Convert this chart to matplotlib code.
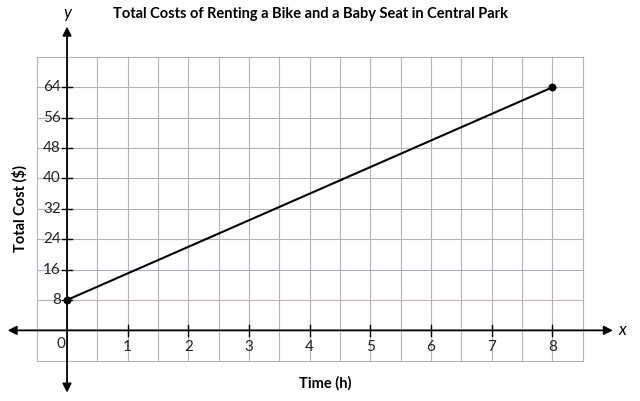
import matplotlib
matplotlib.use("Agg")
import matplotlib.pyplot as plt

# Data
hours = [0, 8]
cost = [8, 64]
x_ticks = [1, 2, 3, 4, 5, 6, 7, 8]
y_ticks = [8, 16, 24, 32, 40, 48, 56, 64]
x_grid = [-0.5 + 0.5 * i for i in range(19)]
y_grid = [-8 + 8 * i for i in range(11)]

title = "Total Costs of Renting a Bike and a Baby Seat in Central Park"
xlabel = "Time (h)"
ylabel = "Total Cost ($)"

plt.rcParams['font.family'] = ['Lato', 'DejaVu Sans']

fig = plt.figure(figsize=(6.4, 4.01), dpi=100)
ax = fig.add_axes([0, 0, 1, 1])
ax.set_xlim(-1.105, 9.446)
ax.set_ylim(-18.6, 87.0)
ax.axis('off')

gcol = '#b4b4b4'
for gx in x_grid:
    ax.plot([gx, gx], [y_grid[0], y_grid[-1]], color=gcol, lw=0.8, zorder=1)
for gy in y_grid:
    c = gcol
    if gy == 16:
        c = '#b4b0cc'
    elif gy == 8:
        c = '#c8b0b4'
    ax.plot([x_grid[0], x_grid[-1]], [gy, gy], color=c, lw=0.8, zorder=1)

# axes with arrows
ax.annotate('', xy=(9.0, 0), xytext=(-0.98, 0),
            arrowprops=dict(arrowstyle='<|-|>', color='black', lw=1.3,
                            mutation_scale=13, shrinkA=0, shrinkB=0), zorder=3)
ax.annotate('', xy=(0, 80.0), xytext=(0, -16.4),
            arrowprops=dict(arrowstyle='<|-|>', color='black', lw=1.3,
                            mutation_scale=13, shrinkA=0, shrinkB=0), zorder=3)

# ticks
for t in x_ticks:
    ax.plot([t, t], [-1.5, 1.5], color='black', lw=1.0, zorder=3)
    ax.text(t, -4.4, str(t), ha='center', va='center', fontsize=11, color='#222222')
for t in y_ticks:
    ax.plot([-0.08, 0.08], [t, t], color='black', lw=1.0, zorder=3)
    ax.text(-0.1, t, str(t), ha='right', va='center', fontsize=11, color='#222222')
ax.text(-0.1, -3.6, '0', ha='center', va='center', fontsize=11, color='#222222')

ax.text(9.1, 0, 'x', ha='left', va='center', fontsize=12, style='italic')
ax.text(0, 83.5, 'y', ha='center', va='center', fontsize=12, style='italic')

# line
ax.plot(hours, cost, color='black', lw=1.5, zorder=4)
ax.scatter(hours, cost, color='black', s=22, zorder=5)

ax.text(4.01, 83.3, title, ha='center', va='center', fontsize=10.5, fontweight='bold')
ax.text(4.26, -13.85, xlabel, ha='center', va='center', fontsize=10.5, fontweight='bold')
ax.text(-0.78, 32, ylabel, ha='center', va='center', rotation=90,
        fontsize=10.5, fontweight='bold')

fig.savefig('out.png', dpi=100)
